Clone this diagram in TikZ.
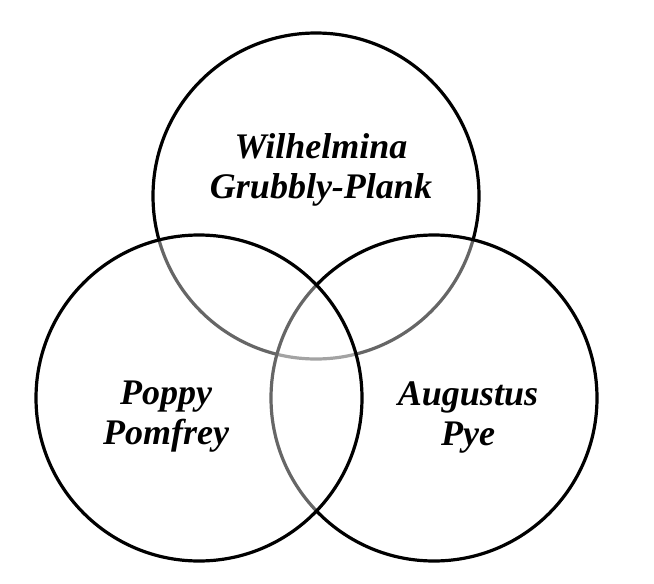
\documentclass[tikz,border=0pt]{standalone}
\usepackage{fontspec}
\setmainfont{Liberation Serif}
\begin{document}
\begin{tikzpicture}[x=1pt, y=-1pt,
    venn/.style={line width=3.2pt, draw=black, fill=white, fill opacity=0.4},
    person/.style={align=center, font=\fontsize{36}{40}\selectfont\bfseries\itshape}]

    % Fix the page size
    \useasboundingbox (0, 0) rectangle (654, 584);

    % Define circle centres
    \coordinate (Top) at (316, 196); % Wilhelmina
    \coordinate (Right) at (434, 398); % Augustus
    \coordinate (Left) at (199, 398); % Poppy

    % Draw the circles (later ones grey out the earlier lines)
    \draw[venn] (Top) circle (163);
    \draw[venn] (Right) circle (163);
    \draw[venn] (Left) circle (163);

    % Names
    \node[person] (wilhelmina) at (321, 170) {Wilhelmina\\Grubbly-Plank};
    \node[person] (poppy) at (166, 417) {Poppy\\Pomfrey};
    \node[person] (augustus) at (468, 417) {Augustus\\Pye};

\end{tikzpicture}
\end{document}
